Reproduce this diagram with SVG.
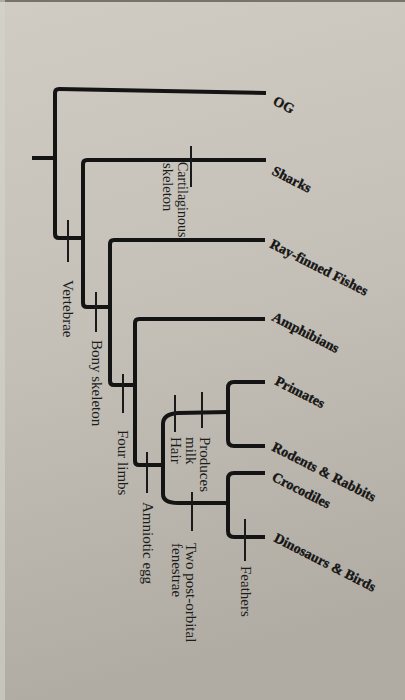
<svg xmlns="http://www.w3.org/2000/svg" width="405" height="700" viewBox="0 0 405 700">
<defs>
<linearGradient id="bg" x1="0" y1="0" x2="0.15" y2="1">
<stop offset="0" stop-color="#d0ccc3"/>
<stop offset="0.5" stop-color="#c4c0b7"/>
<stop offset="1" stop-color="#b0aca3"/>
</linearGradient>
<style>
.br{fill:none;stroke:#141414;stroke-width:4;stroke-linecap:butt;stroke-linejoin:round}
.tk{fill:none;stroke:#1a1a1a;stroke-width:2}
.tr{font-family:"Liberation Serif","Times New Roman",serif;font-size:15px;fill:#1c1c1c}
.tip{font-family:"Liberation Serif","Times New Roman",serif;font-size:14px;font-weight:bold;fill:#151515;stroke:#151515;stroke-width:0.35}
</style>
</defs>
<rect width="405" height="700" fill="url(#bg)"/>
<rect x="0" y="0" width="405" height="2" fill="#77736b"/>
<rect x="0" y="0" width="5" height="700" fill="#d6d3cb" opacity="0.6"/>

<g id="connectors">
<path class="br" d="M32,158 H55"/>
<path class="br" d="M266,93 L59,89 Q55,89 55,93 V234 Q55,238 59,238 H83"/>
<path class="br" d="M266,160 H87 Q83,160 83,164 V303 Q83,307 87,307 H110"/>
<path class="br" d="M265,240 H114 Q110,240 110,244 V381 Q110,385 114,385 H135"/>
<path class="br" d="M265,319 H139 Q135,319 135,323 V461 Q135,465 139,465 H163"/>
<path class="br" d="M228,412 L178,413 Q163,414 163,424 V494 Q163,503 178,503 H228"/>
<path class="br" d="M265,382 H234 Q228,382 228,388 V440 Q228,446 234,446 H265"/>
<path class="br" d="M265,473 H234 Q228,473 228,479 V531 Q228,537 234,537 H265"/>
</g>

<g id="traits">
<line class="tk" x1="68" y1="220" x2="68" y2="262"/>
<line class="tk" x1="191" y1="146" x2="191" y2="187"/>
<line class="tk" x1="96" y1="292" x2="96" y2="332"/>
<line class="tk" x1="123" y1="374" x2="123" y2="413"/>
<line class="tk" x1="147" y1="452" x2="147" y2="493"/>
<line class="tk" x1="175" y1="395" x2="175" y2="432"/>
<line class="tk" x1="202" y1="392" x2="202" y2="428"/>
<line class="tk" x1="192" y1="492" x2="192" y2="531"/>
<line class="tk" x1="245" y1="519" x2="245" y2="561"/>
</g>

<g id="trait-labels">
<text class="tr" style="font-size:14px" transform="translate(178,162) rotate(90)">Cartilaginous</text>
<text class="tr" style="font-size:14.5px" transform="translate(163,163) rotate(90)">skeleton</text>
<text class="tr" transform="translate(63,280) rotate(90)">Vertebrae</text>
<text class="tr" transform="translate(92,340) rotate(90)">Bony skeleton</text>
<text class="tr" transform="translate(118,430) rotate(90)">Four limbs</text>
<text class="tr" transform="translate(143,502) rotate(90)">Amniotic egg</text>
<text class="tr" transform="translate(200,437) rotate(90)">Produces</text>
<text class="tr" transform="translate(186,437) rotate(90)">milk</text>
<text class="tr" transform="translate(171,437) rotate(90)">Hair</text>
<text class="tr" transform="translate(186,543) rotate(90)">Two post-orbital</text>
<text class="tr" transform="translate(172,543) rotate(90)">fenestrae</text>
<text class="tr" transform="translate(241,566) rotate(90)">Feathers</text>
</g>

<g id="taxa">
<g id="OG"><text class="tip" transform="translate(272,104) rotate(27)">OG</text></g>
<g id="Sharks"><text class="tip" transform="translate(271,174) rotate(27)">Sharks</text></g>
<g id="RayFinned"><text class="tip" transform="translate(269,247) rotate(27)">Ray-finned Fishes</text></g>
<g id="Amphibians"><text class="tip" transform="translate(271,320) rotate(27)">Amphibians</text></g>
<g id="Primates"><text class="tip" transform="translate(274,384) rotate(27)">Primates</text></g>
<g id="Rodents"><text class="tip" transform="translate(271,450) rotate(27)">Rodents &amp; Rabbits</text></g>
<g id="Crocodiles"><text class="tip" transform="translate(271,480) rotate(27)">Crocodiles</text></g>
<g id="Dinosaurs"><text class="tip" transform="translate(273,541) rotate(27)">Dinosaurs &amp; Birds</text></g>
</g>
</svg>
